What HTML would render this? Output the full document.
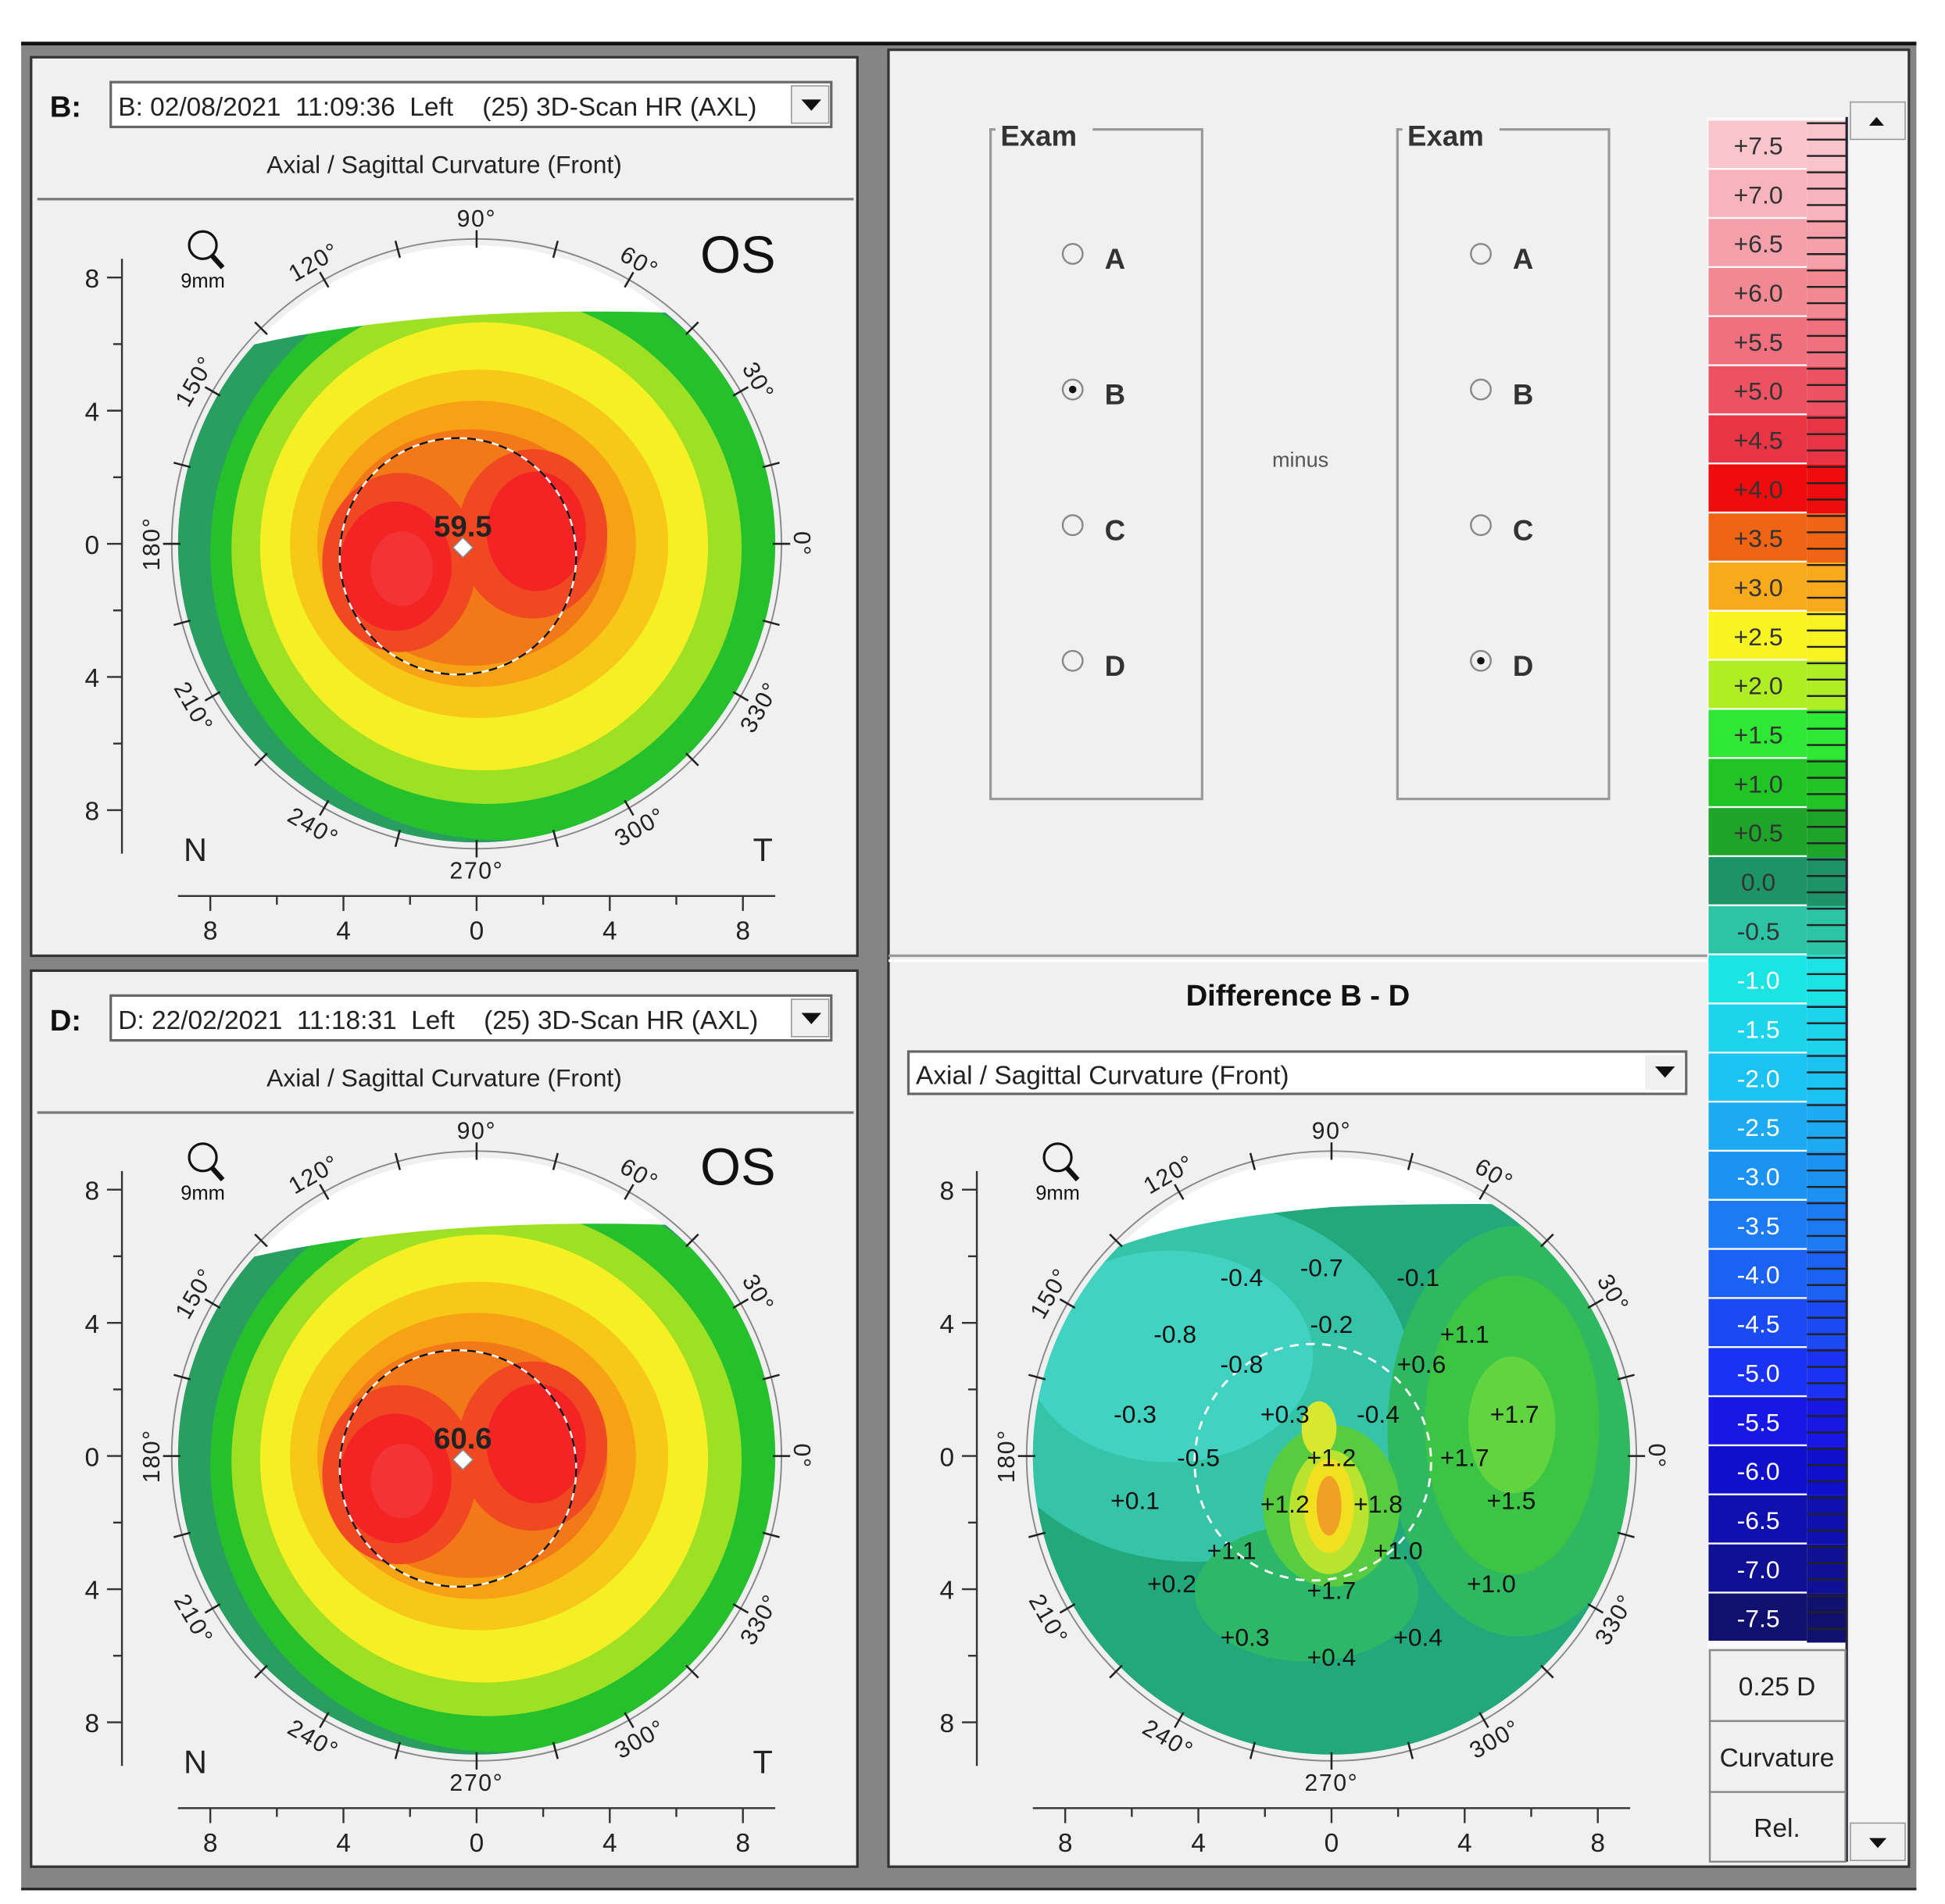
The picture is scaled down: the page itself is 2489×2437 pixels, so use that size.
<!DOCTYPE html>
<html><head><meta charset="utf-8">
<style>
html,body{margin:0;padding:0;background:#fff;}
svg{display:block;font-family:"Liberation Sans",sans-serif;}
</style></head>
<body>
<svg id="root" width="2489" height="2437" viewBox="0 0 1563 1530" preserveAspectRatio="none" xmlns="http://www.w3.org/2000/svg">
<defs>
<clipPath id="clipB"><circle cx="383" cy="437" r="240"/></clipPath>
<clipPath id="clipD"><circle cx="383" cy="1170" r="240"/></clipPath>
<clipPath id="clipX"><circle cx="1070" cy="1170" r="240"/></clipPath>
</defs>
<rect x="0" y="0" width="1563" height="1530" fill="#fff"/>
<rect x="17" y="34" width="1523" height="1485" fill="#858585"/>
<line x1="17" y1="35" x2="1540" y2="35" stroke="#111" stroke-width="3"/>
<line x1="17" y1="1518" x2="1540" y2="1518" stroke="#222" stroke-width="2"/>
<rect x="25" y="46" width="664" height="722" fill="#f0f0f0" stroke="#333" stroke-width="2"/>
<rect x="25" y="780" width="664" height="720" fill="#f0f0f0" stroke="#333" stroke-width="2"/>
<rect x="714" y="40" width="820" height="1460" fill="#f0f0f0" stroke="#333" stroke-width="2"/>
<line x1="714" y1="768" x2="1372" y2="768" stroke="#999" stroke-width="2"/>
<line x1="714" y1="772" x2="1372" y2="772" stroke="#fff" stroke-width="2"/>
<g id="leftHeaders"></g>
<g>
<rect x="796" y="104" width="170" height="538" fill="none" stroke="#999" stroke-width="2"/>
<rect x="800" y="96" width="78" height="20" fill="#f0f0f0"/>
<text x="804" y="117" font-size="23" font-weight="bold" fill="#333">Exam</text>
</g>
<g>
<rect x="1123" y="104" width="170" height="538" fill="none" stroke="#999" stroke-width="2"/>
<rect x="1127" y="96" width="78" height="20" fill="#f0f0f0"/>
<text x="1131" y="117" font-size="23" font-weight="bold" fill="#333">Exam</text>
</g>
<text x="1045" y="375" font-size="17" fill="#555" text-anchor="middle">minus</text>
<g id="radios"></g>
<text x="1043" y="808" font-size="24" font-weight="bold" fill="#111" text-anchor="middle">Difference B - D</text>
<g>
<rect x="730" y="845" width="625" height="34" fill="#fff" stroke="#666" stroke-width="2"/>
<text x="736" y="871" font-size="21" fill="#222">Axial / Sagittal Curvature (Front)</text>
<rect x="1322" y="848" width="31" height="28" fill="#f0f0f0"/>
<path d="M1330 857 L1346 857 L1338 866 Z" fill="#111"/>
</g>
<g id="maps"></g>
<g id="colorbar"></g>
<g>
<rect x="1487" y="82" width="44" height="1414" fill="#f5f5f5"/>
<rect x="1487" y="82" width="44" height="30" fill="#f0f0f0" stroke="#999"/>
<path d="M1502 101 L1514 101 L1508 94 Z" fill="#111"/>
<rect x="1487" y="1465" width="44" height="30" fill="#f0f0f0" stroke="#999"/>
<path d="M1502 1477 L1516 1477 L1509 1485 Z" fill="#111"/>
</g>
</svg>
<script>
const NS="http://www.w3.org/2000/svg";
function el(tag,attrs,parent,text){const e=document.createElementNS(NS,tag);for(const k in attrs)e.setAttribute(k,attrs[k]);if(text!==undefined)e.textContent=text;(parent||document.getElementById('root')).appendChild(e);return e;}

// ---- data ----
const scaleLevels=["+7.5","+7.0","+6.5","+6.0","+5.5","+5.0","+4.5","+4.0","+3.5","+3.0","+2.5","+2.0","+1.5","+1.0","+0.5","0.0","-0.5","-1.0","-1.5","-2.0","-2.5","-3.0","-3.5","-4.0","-4.5","-5.0","-5.5","-6.0","-6.5","-7.0","-7.5"];
const scaleColors=["#f9c4cc","#f8b4bc","#f5a0aa","#f28892","#f07080","#ec5262","#e83444","#ee0c0c","#f06414","#f8aa1c","#f8f424","#b0ee24","#2ee834","#20c424","#1ea428","#1c9468","#2cc4a4","#1ce4e4","#1cd4ec","#1cc2f2","#1caaf2","#1c92f2","#1c7af2","#1c62f2","#1c4af2","#1c32f2","#1818e6","#1010cc","#1010b0","#101094","#10106e"];
const degreeLabels=[0,30,60,90,120,150,180,210,240,270,300,330];
const axisTicks=["8","4","0","4","8"];
const diffValues=["-0.7","-0.4","-0.1","-0.8","-0.2","+1.1","-0.8","+0.6","-0.3","+0.3","-0.4","+1.7","-0.5","+1.2","+1.7","+0.1","+1.2","+1.8","+1.5","+1.1","+1.0","+0.2","+1.7","+1.0","+0.3","+0.4","+0.4"];
const diffX=[-0.3,-2.7,2.6,-4.7,0,4.0,-2.7,2.7,-5.9,-1.4,1.4,5.5,-4.0,0,4.0,-5.9,-1.4,1.4,5.4,-3.0,2.0,-4.8,0,4.8,-2.6,0,2.6];
const diffY=[5.7,5.4,5.4,3.7,4.0,3.7,2.8,2.8,1.3,1.3,1.3,1.3,0,0,0,-1.3,-1.4,-1.4,-1.3,-2.8,-2.8,-3.8,-4.0,-3.8,-5.4,-6.0,-5.4];
const centralK=["59.5","60.6"];

const mm=26.75;
const hdr=document.getElementById('leftHeaders');
[["B","B: 02/08/2021  11:09:36  Left    (25) 3D-Scan HR (AXL)",48],["D","D: 22/02/2021  11:18:31  Left    (25) 3D-Scan HR (AXL)",782]].forEach(function(h){
  const y=h[2];
  el('text',{x:40,y:y+46,'font-size':24,'font-weight':'bold',fill:'#111',},hdr,h[0]+':');
  const g=el('g',{},hdr);
  
  
  el('rect',{x:89,y:y+18,width:579,height:36,fill:'#fff',stroke:'#666','stroke-width':2},g);
  el('text',{x:95,y:y+45,'font-size':21,fill:'#222',style:'white-space:pre'},g,h[1]);
  el('rect',{x:636,y:y+21,width:30,height:30,fill:'#f0f0f0',stroke:'#999'},g);
  el('path',{d:`M644 ${y+32} L660 ${y+32} L652 ${y+41} Z`,fill:'#111'},g);
  const t=el('text',{x:357,y:y+91,'font-size':20,fill:'#222','text-anchor':'middle'},hdr,'Axial / Sagittal Curvature (Front)');
  
  
  el('line',{x1:30,y1:y+112,x2:686,y2:y+112,stroke:'#777','stroke-width':2},hdr);
});

const rg=document.getElementById('radios');
[[862,"B"],[1190,"D"]].forEach(function(c){
  ["A","B","C","D"].forEach(function(L,i){
    const y=207+i*109;
    const g=el('g',{},rg);
    
    
    el('circle',{cx:c[0],cy:y-3,r:8,fill:'#f0f0f0',stroke:'#888','stroke-width':1.5},g);
    if(L===c[1]) el('circle',{cx:c[0],cy:y-3,r:3,fill:'#111'},g);
    el('text',{x:c[0]+34,y:y+9,'font-size':23,'font-weight':'bold',fill:'#333','text-anchor':'middle'},g,L);
  });
});

const mg=document.getElementById('maps');
function frame(cx,cy,name){
  const g=el('g',{},mg);
  
  
  const ax=cx-285;
  el('line',{x1:ax,y1:cy-8*mm-15,x2:ax,y2:cy+8*mm+35,stroke:'#333','stroke-width':1.5},g);
  el('line',{x1:cx-240,y1:cy+283,x2:cx+240,y2:cy+283,stroke:'#333','stroke-width':1.5},g);
  for(let v=-8;v<=8;v+=2){
    const yy=cy-v*mm, xx=cx+v*mm;
    el('line',{x1:v%4===0?ax-12:ax-7,y1:yy,x2:ax,y2:yy,stroke:'#333','stroke-width':1.5},g);
    el('line',{x1:xx,y1:cy+283,x2:xx,y2:cy+283+(v%4===0?12:7),stroke:'#333','stroke-width':1.5},g);
  }
  axisTicks.forEach(function(t,i){
    const v=8-i*4;
    el('text',{x:ax-24,y:cy-v*mm+8,'font-size':21,fill:'#222','text-anchor':'middle'},g,t);
    el('text',{x:cx+(i*4-8)*mm,y:cy+318,'font-size':21,fill:'#222','text-anchor':'middle'},g,t);
  });
}
function rim(cx,cy,name){
  const g=el('g',{},mg);
  
  
  el('circle',{cx:cx,cy:cy,r:245,fill:'none',stroke:'#888','stroke-width':1.2},g);
  for(let a=0;a<360;a+=15){
    const r=a*Math.PI/180;
    el('line',{x1:cx+238*Math.cos(r),y1:cy-238*Math.sin(r),x2:cx+252*Math.cos(r),y2:cy-252*Math.sin(r),stroke:'#222','stroke-width':1.6},g);
  }
  degreeLabels.forEach(function(d){
    const r=d*Math.PI/180, R=262;
    const x=cx+R*Math.cos(r), y=cy-R*Math.sin(r);
    let rot=90-d; if(d>180) rot=270-d; if(d===0) rot=90; if(d===180) rot=-90; if(d===90||d===270) rot=0;
    el('text',{x:x,y:y+7,'font-size':19,fill:'#222','text-anchor':'middle',transform:`rotate(${rot} ${x} ${y})`,'letter-spacing':'1'},g,d+'°');
  });
  const mx=cx-220, my=cy-240;
  el('circle',{cx:mx,cy:my,r:11,fill:'none',stroke:'#111','stroke-width':2},g);
  el('line',{x1:mx+7,y1:my+8,x2:mx+16,y2:my+18,stroke:'#111','stroke-width':4},g);
  el('text',{x:mx,y:my+34,'font-size':16,fill:'#111','text-anchor':'middle'},g,'9mm');
}
function topo(cx,cy,clip,name,k){
  const g=el('g',{'clip-path':`url(#${clip})`},mg);
  
  
  const L=[["circle",{cx:cx,cy:cy,r:240,fill:'#2a9e60'}],["circle",{cx:cx+18,cy:cy+6,r:232,fill:'#26c02c'}],
  ["ellipse",{cx:cx+8,cy:cy+4,rx:205,ry:205,fill:'#9ee024'}],["ellipse",{cx:cx+6,cy:cy+2,rx:180,ry:180,fill:'#f4f024'}],
  ["ellipse",{cx:cx+2,cy:cy,rx:152,ry:140,fill:'#f8c818'}],["ellipse",{cx:cx,cy:cy,rx:128,ry:115,fill:'#f6a214'}],
  ["ellipse",{cx:cx-5,cy:cy+3,rx:110,ry:95,fill:'#f27818'}],["ellipse",{cx:cx-62,cy:cy+15,rx:62,ry:72,fill:'#f04822'}],
  ["ellipse",{cx:cx+45,cy:cy-8,rx:60,ry:68,fill:'#f04822'}],["ellipse",{cx:cx-65,cy:cy+18,rx:45,ry:52,fill:'#f42424'}],
  ["ellipse",{cx:cx+48,cy:cy-10,rx:40,ry:48,fill:'#f42424'}],["ellipse",{cx:cx-60,cy:cy+20,rx:25,ry:30,fill:'#f43434'}]];
  L.forEach(s=>el(s[0],s[1],g));
  el('path',{d:`M${cx-260} ${cy-300} L${cx+260} ${cy-300} L${cx+260} ${cy-180} Q${cx} ${cy-200} ${cx-180} ${cy-160} L${cx-260} ${cy-160} Z`,fill:'#fff'},g);
  el('circle',{cx:cx-15,cy:cy+10,r:95,fill:'none',stroke:'#fff','stroke-width':1.5},mg);
  el('circle',{cx:cx-15,cy:cy+10,r:95,fill:'none',stroke:'#111','stroke-width':1.5,'stroke-dasharray':'7 6'},mg);
  el('path',{d:`M${cx-11} ${cy-5} l8 8 l-8 8 l-8 -8 Z`,fill:'#fff',stroke:'#888'},mg);
  const t=el('text',{x:cx-11,y:cy-6,'font-size':24,'font-weight':'bold',fill:'#222','text-anchor':'middle'},mg,k);
  
  
  el('text',{x:cx+210,y:cy-218,'font-size':42,fill:'#111','text-anchor':'middle'},mg,'OS');
  el('text',{x:157,y:cy+255,'font-size':26,fill:'#222','text-anchor':'middle'},mg,'N');
  el('text',{x:613,y:cy+255,'font-size':26,fill:'#222','text-anchor':'middle'},mg,'T');
}
frame(383,437,'exam-b'); topo(383,437,'clipB','exam-b',centralK[0]); rim(383,437,'exam-b');
frame(383,1170,'exam-d'); topo(383,1170,'clipD','exam-d',centralK[1]); rim(383,1170,'exam-d');

(function(){
  const cx=1070, cy=1170;
  frame(cx,cy,'difference');
  const g=el('g',{'clip-path':'url(#clipX)'},mg);
  
  
  const L=[["circle",{cx:cx,cy:cy,r:240,fill:'#22a87a'}],["ellipse",{cx:cx-110,cy:cy-60,rx:175,ry:145,fill:'#36c4a8'}],
  ["ellipse",{cx:cx-130,cy:cy-80,rx:115,ry:85,fill:'#42d2c2'}],["ellipse",{cx:cx+150,cy:cy-20,rx:105,ry:165,fill:'#30b860'}],
  ["ellipse",{cx:cx+145,cy:cy-25,rx:70,ry:120,fill:'#3cc444'}],["ellipse",{cx:cx+145,cy:cy-25,rx:35,ry:55,fill:'#62d440'}],
  ["ellipse",{cx:cx-20,cy:cy+110,rx:90,ry:55,fill:'#2cb868'}],["ellipse",{cx:cx,cy:cy+40,rx:55,ry:65,fill:'#58cc40'}],
  ["ellipse",{cx:cx-2,cy:cy+45,rx:32,ry:50,fill:'#b8e430'}],["ellipse",{cx:cx-2,cy:cy+40,rx:20,ry:38,fill:'#f2e020'}],
  ["ellipse",{cx:cx-2,cy:cy+40,rx:10,ry:24,fill:'#f0a024'}],["ellipse",{cx:cx-10,cy:cy-22,rx:14,ry:22,fill:'#d8e830'}]];
  L.forEach(s=>el(s[0],s[1],g));
  el('path',{d:`M${cx-260} ${cy-300} L${cx+260} ${cy-300} L${cx+260} ${cy-200} Q${cx+100} ${cy-205} ${cx} ${cy-200} Q${cx-120} ${cy-190} ${cx-180} ${cy-165} L${cx-260} ${cy-160} Z`,fill:'#fff'},g);
  el('circle',{cx:cx-15,cy:cy+5,r:95,fill:'none',stroke:'#fff','stroke-width':1.8,'stroke-dasharray':'7 6'},mg);
  diffValues.forEach(function(v,i){
    const t=el('text',{x:cx+diffX[i]*mm,y:cy-diffY[i]*mm+8,'font-size':20,fill:'#111','text-anchor':'middle'},mg,v);
    
    
  });
  rim(cx,cy,'difference');
})();

const cb=document.getElementById('colorbar');
el('rect',{x:1372,y:94,width:112,height:1230,fill:'#fafafa'},cb);
const cbTop=97, cellH=39.45;
scaleLevels.forEach(function(lv,i){
  const y=cbTop+i*cellH;
  const r=el('rect',{x:1373,y:y,width:79,height:cellH-1.5,fill:scaleColors[i]},cb);
  
  
  const dark=i>=17;
  const t=el('text',{x:1413,y:y+27,'font-size':20,fill:dark?'#fff':'#333','text-anchor':'middle'},cb,lv);
  
  
  el('rect',{x:1452,y:y,width:32,height:cellH,fill:scaleColors[i]},cb);
  for(let j=0;j<3;j++) el('line',{x1:1452,y1:y+j*cellH/3+2,x2:1484,y2:y+j*cellH/3+2,stroke:'#222','stroke-width':1.5},cb);
});
el('line',{x1:1484,y1:94,x2:1484,y2:1496,stroke:'#223','stroke-width':2},cb);
[["0.25 D",1326,1383],["Curvature",1383,1440],["Rel.",1440,1496]].forEach(function(b){
  const g=el('g',{},cb);
  
  
  el('rect',{x:1374,y:b[1],width:109,height:b[2]-b[1],fill:'#f0f0f0',stroke:'#888','stroke-width':1.5},g);
  el('text',{x:1428,y:(b[1]+b[2])/2+8,'font-size':21,fill:'#222','text-anchor':'middle'},g,b[0]);
});
</script>
</body></html>
